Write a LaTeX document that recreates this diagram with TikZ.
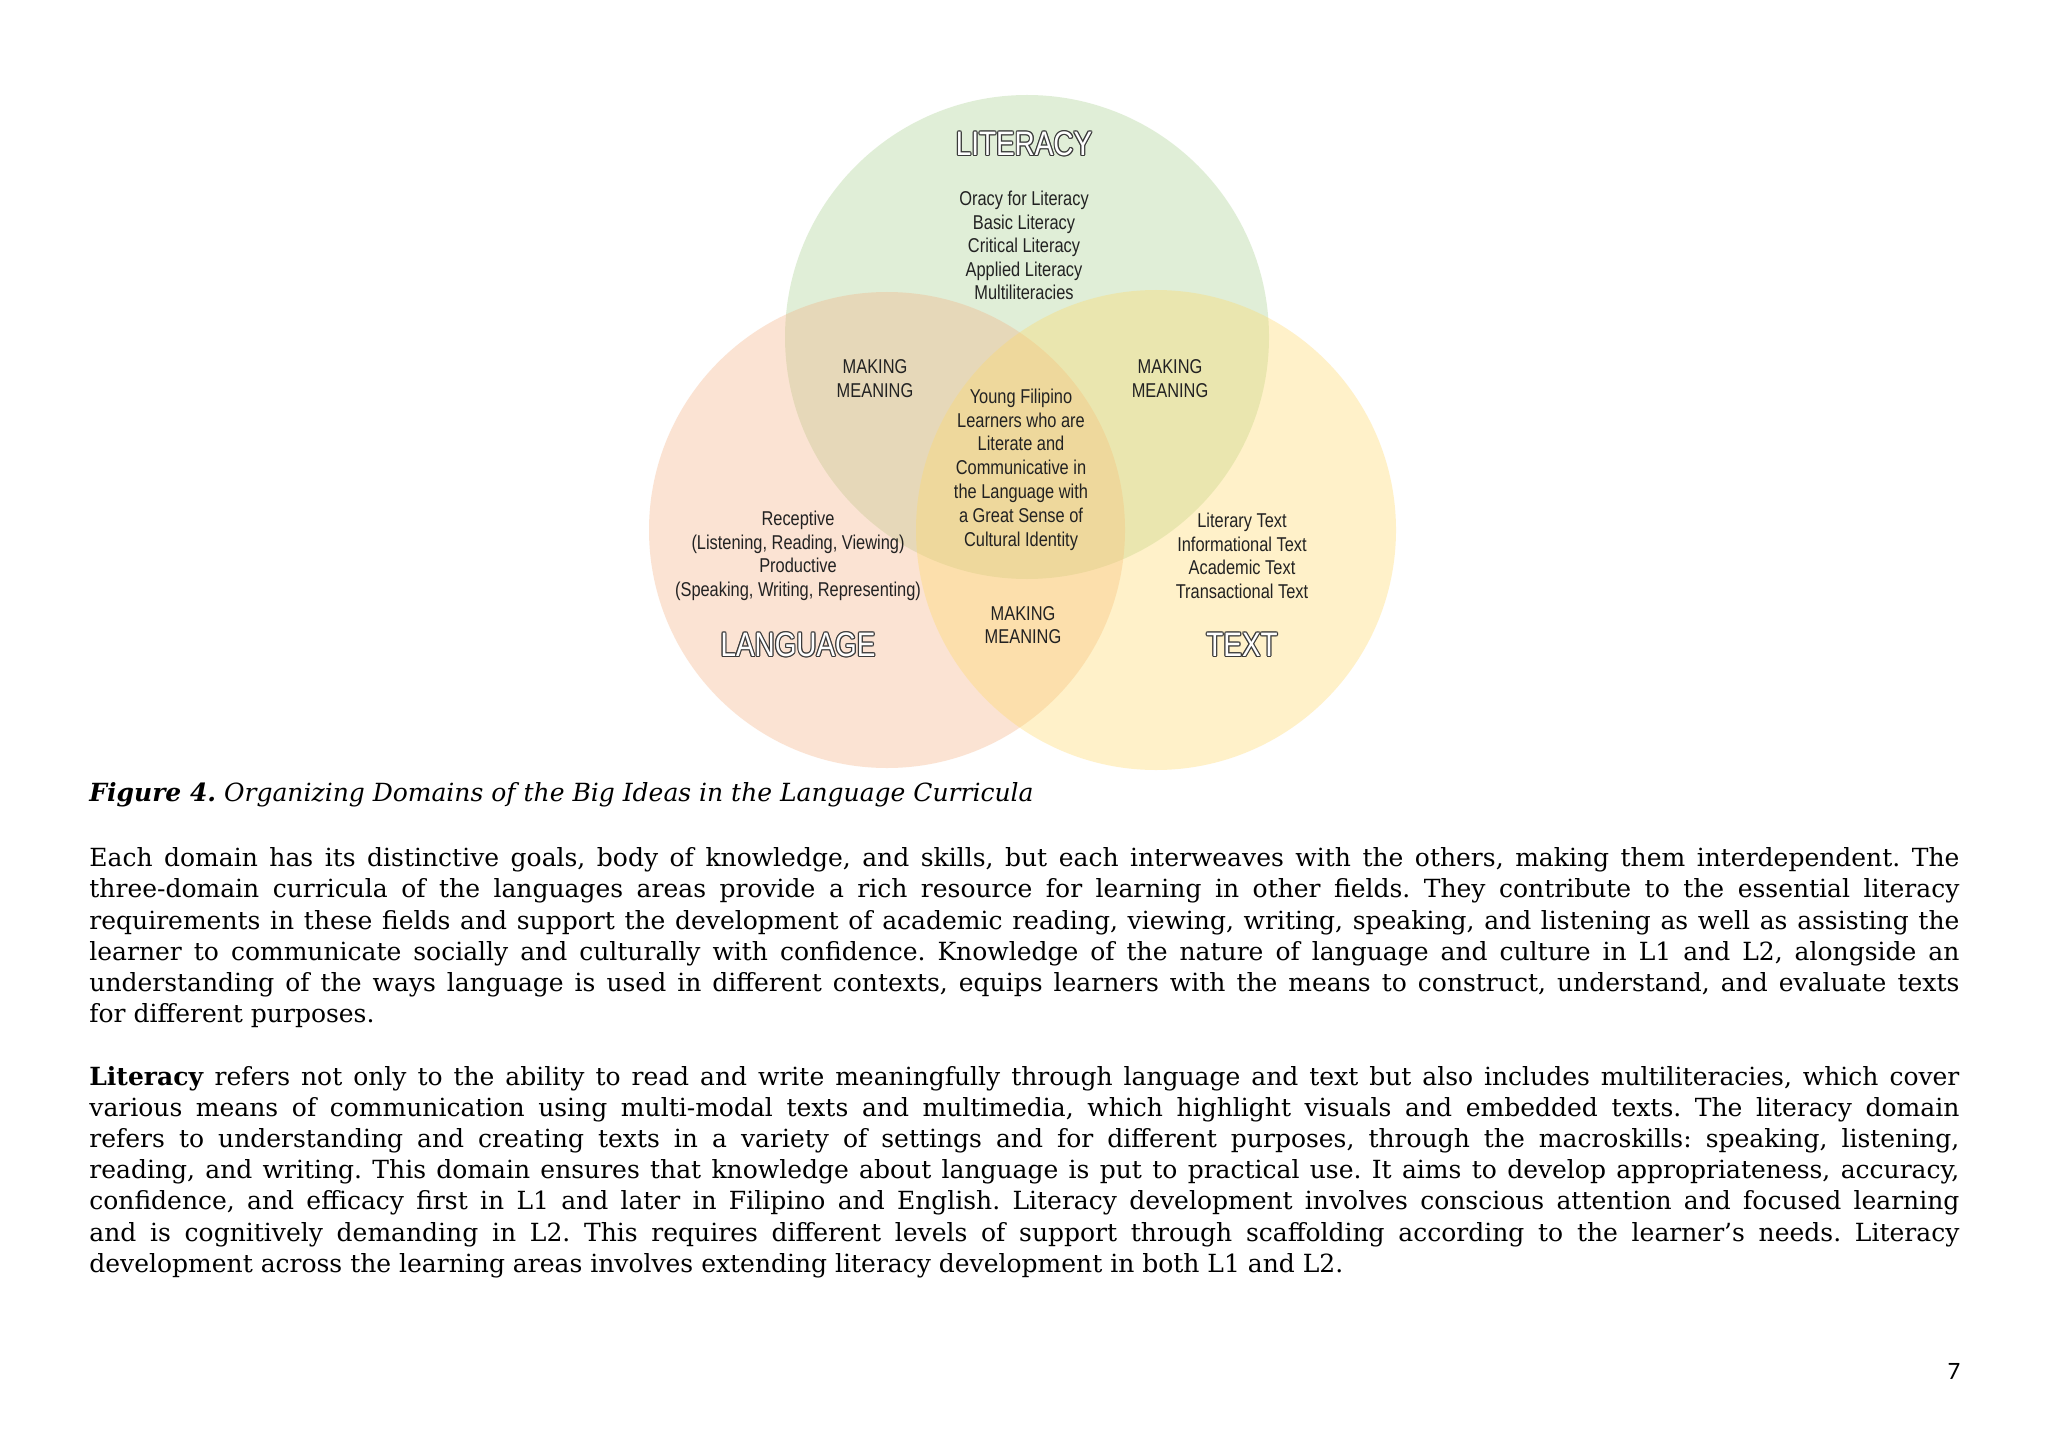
\documentclass[tikz,border=0pt]{standalone}
\usepackage{fontspec}
\setmainfont{DejaVu Serif}
\newfontfamily\narrowfont[FakeStretch=0.82]{Liberation Sans}
\newfontfamily\pagenumfont{Carlito}
\definecolor{litgreen}{HTML}{A9D18E}
\definecolor{langpink}{HTML}{F4B183}
\definecolor{textyellow}{HTML}{FFD966}
\definecolor{venntext}{HTML}{222222}
\definecolor{olcol}{HTML}{3A3A3A}
\frenchspacing
\newcommand\hollowtext[1]{\leavevmode
  \rlap{\kern-0.6pt\textcolor{olcol}{#1}}%
  \rlap{\kern0.6pt\textcolor{olcol}{#1}}%
  \rlap{\raisebox{0.6pt}{\textcolor{olcol}{#1}}}%
  \rlap{\raisebox{-0.6pt}{\textcolor{olcol}{#1}}}%
  \rlap{\raisebox{0.42pt}{\kern0.42pt\textcolor{olcol}{#1}}}%
  \rlap{\raisebox{0.42pt}{\kern-0.42pt\textcolor{olcol}{#1}}}%
  \rlap{\raisebox{-0.42pt}{\kern0.42pt\textcolor{olcol}{#1}}}%
  \rlap{\raisebox{-0.42pt}{\kern-0.42pt\textcolor{olcol}{#1}}}%
  \textcolor{white}{#1}}
\begin{document}
\begin{tikzpicture}[x=0.5pt,y=-0.5pt,
  venn/.style={fill opacity=0.35},
  vtext/.style={align=center,inner sep=0pt,text=venntext,
    font=\narrowfont\fontsize{10}{11.8}\selectfont},
  vlabel/.style={inner sep=0pt,font=\narrowfont\fontsize{17}{20}\selectfont},
  bodyline/.style={anchor=base west,inner sep=0pt,font=\fontsize{12.5}{14}\selectfont},
  capline/.style={anchor=base west,inner sep=0pt,font=\fontsize{12.5}{14}\selectfont}]
\path[use as bounding box,fill=white] (0,0) rectangle (2048,1449);
% circles
\fill[venn,litgreen] (1027,337) circle[radius=121pt];
\fill[venn,langpink] (887,530) circle[radius=119pt];
\fill[venn,textyellow] (1156,530) circle[radius=120pt];
% labels
\node[vlabel] (litlbl) at (1024,144) {\hollowtext{LITERACY}};
\node[vlabel] (langlbl) at (798,645) {\hollowtext{LANGUAGE}};
\node[vlabel] (textlbl) at (1242,645) {\hollowtext{TEXT}};
\node[vtext] (litlist) at (1024,245.5) {Oracy for Literacy\\Basic Literacy\\Critical Literacy\\Applied Literacy\\Multiliteracies};
\node[vtext] (mmleft) at (875,378.5) {MAKING\\MEANING};
\node[vtext] (mmright) at (1170,378.5) {MAKING\\MEANING};
\node[vtext] (mmbottom) at (1023,625) {MAKING\\MEANING};
\node[vtext,font=\narrowfont\fontsize{10}{11.9}\selectfont] (core) at (1021,469.5) {Young Filipino\\Learners who are\\Literate and\\Communicative in\\the Language with\\a Great Sense of\\Cultural Identity};
\node[vtext] (langlist) at (798,556) {Receptive\\(Listening, Reading, Viewing)\\Productive\\(Speaking, Writing, Representing)};
\node[vtext] (textlist) at (1242,556) {Literary Text\\Informational Text\\Academic Text\\Transactional Text};
% caption
\node[capline] (cap) at (89,801) {\textbf{\textit{Figure 4.}} \textit{Organizing Domains of the Big Ideas in the Language Curricula}};
% paragraph 1
\node[bodyline] (p1a) at (89,866.6) {\makebox[935pt][s]{Each domain has its distinctive goals, body of knowledge, and skills, but each interweaves with the others, making them interdependent. The}};
\node[bodyline] (p1b) at (89,897.8) {\makebox[935pt][s]{three-domain curricula of the languages areas provide a rich resource for learning in other fields. They contribute to the essential literacy}};
\node[bodyline] (p1c) at (89,929.0) {\makebox[935pt][s]{requirements in these fields and support the development of academic reading, viewing, writing, speaking, and listening as well as assisting the}};
\node[bodyline] (p1d) at (89,960.2) {\makebox[935pt][s]{learner to communicate socially and culturally with confidence. Knowledge of the nature of language and culture in L1 and L2, alongside an}};
\node[bodyline] (p1e) at (89,991.4) {\makebox[935pt][s]{understanding of the ways language is used in different contexts, equips learners with the means to construct, understand, and evaluate texts}};
\node[bodyline] (p1f) at (89,1022.6) {for different purposes.};
% paragraph 2
\node[bodyline] (p2a) at (89,1085) {\makebox[935pt][s]{\textbf{Literacy} refers not only to the ability to read and write meaningfully through language and text but also includes multiliteracies, which cover}};
\node[bodyline] (p2b) at (89,1116.2) {\makebox[935pt][s]{various means of communication using multi-modal texts and multimedia, which highlight visuals and embedded texts. The literacy domain}};
\node[bodyline] (p2c) at (89,1147.4) {\makebox[935pt][s]{refers to understanding and creating texts in a variety of settings and for different purposes, through the macroskills: speaking, listening,}};
\node[bodyline] (p2d) at (89,1178.6) {\makebox[935pt][s]{reading, and writing. This domain ensures that knowledge about language is put to practical use. It aims to develop appropriateness, accuracy,}};
\node[bodyline] (p2e) at (89,1209.8) {\makebox[935pt][s]{confidence, and efficacy first in L1 and later in Filipino and English. Literacy development involves conscious attention and focused learning}};
\node[bodyline] (p2f) at (89,1241.0) {\makebox[935pt][s]{and is cognitively demanding in L2. This requires different levels of support through scaffolding according to the learner’s needs. Literacy}};
\node[bodyline] (p2g) at (89,1272.2) {development across the learning areas involves extending literacy development in both L1 and L2.};
% page number
\node[anchor=base,inner sep=0pt,font=\pagenumfont\fontsize{12.5}{14}\selectfont] (pagenum) at (1954,1379) {7};
\end{tikzpicture}
\end{document}
